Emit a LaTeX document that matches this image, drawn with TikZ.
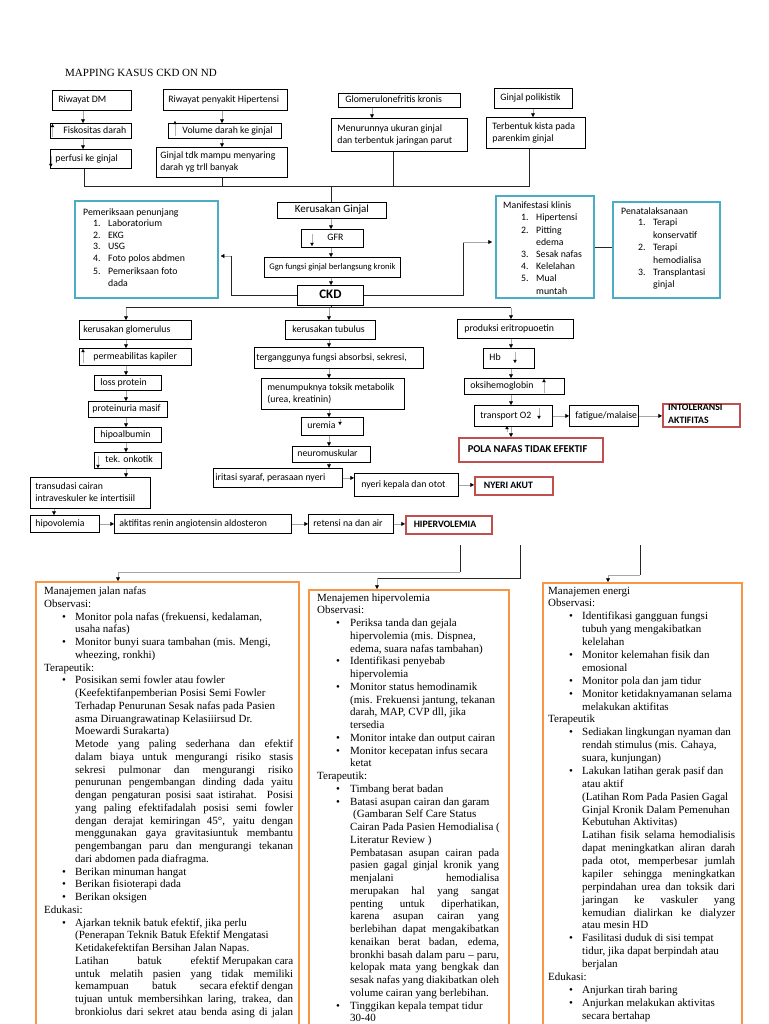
\documentclass[tikz,border=0pt]{standalone}
\usepackage{fontspec}
\setmainfont{Liberation Serif}
\newfontfamily\cf{Carlito}
\usetikzlibrary{arrows.meta,calc}
\definecolor{redc}{RGB}{192,80,77}
\definecolor{tealc}{RGB}{75,172,198}
\definecolor{orc}{RGB}{247,150,70}
\newcounter{tln}
\newcommand\mkbox[9][l]{%
  \pgfmathsetmacro\bw{#6-#4}%
  \pgfmathsetmacro\bh{#7-#5}%
  \pgfmathsetmacro\tw{max(#6-#4-2*#8,1)}%
  \node[anchor=north west, minimum width=\bw pt, minimum height=\bh pt,
        inner xsep=#8pt, inner ysep=0pt, #2] (#3) at (#4,#5)
        {\makebox[\tw pt][#1]{\begin{tabular}{@{}#1@{}}#9\end{tabular}}};}
\newcommand\stx[3]{\stepcounter{tln}\node[ctxt] (c\arabic{tln}) at (#1,#2+2.4) {#3};}
\newcommand\lnx[3]{\stepcounter{tln}\node[stxt] (s\arabic{tln}) at (#1,{\yo+(#2-1)*\dy+2.6}) {#3};}
\newcommand\lnj[2]{\stepcounter{tln}\node[stxt] (s\arabic{tln}) at (\xt,{\yo+(#1-1)*\dy+2.6}) {\makebox[\jw pt][s]{#2}};}
\newcommand\lnb[2]{\stepcounter{tln}\node[stxt] (s\arabic{tln}) at (\xb,{\yo+(#1-1)*\dy+2.6}) {\textbullet};%
  \stepcounter{tln}\node[stxt] (s\arabic{tln}) at (\xt,{\yo+(#1-1)*\dy+2.6}) {#2};}
\tikzset{
  box/.style={draw=black, line width=0.8pt, font=\cf\fontsize{9.8}{12}\selectfont},
  redb/.style={draw=redc, line width=1.6pt, font=\cf\bfseries\fontsize{9.8}{12}\selectfont},
  tealb/.style={draw=tealc, line width=1.7pt},
  orb/.style={draw=orc, line width=1.7pt},
  conn/.style={draw=gray!70, line width=0.5pt, -{Triangle[length=3.6pt,width=3.8pt,color=black]}},
  sarr/.style={draw=gray!60, line width=0.45pt, -{Triangle[length=3.2pt,width=3.4pt,color=black]}},
  bus/.style={draw=black!85, line width=0.7pt},
  stxt/.style={anchor=base west, inner sep=0pt, font=\fontsize{11}{12.75}\selectfont},
  ctxt/.style={anchor=base west, inner sep=0pt, font=\cf\fontsize{9.8}{12}\selectfont},
}
\begin{document}
\begin{tikzpicture}[x=1pt,y=-1pt]
\useasboundingbox (0,0) rectangle (768,1024);
\clip (0,0) rectangle (768,1024);
\fill[white] (0,0) rectangle (768,1024);

\node[anchor=base west, inner sep=0pt, font=\fontsize{11}{13}\selectfont] (title) at (65,77) {MAPPING KASUS CKD ON ND};

% ---------- top causes ----------
\mkbox{box}{dm}{52}{90}{131}{110}{6}{Riwayat DM}
\mkbox{box}{fisk}{50}{123}{131}{138}{13}{Fiskositas darah}
\mkbox{box}{perf}{50}{149}{131}{168}{5}{perfusi ke ginjal}
\mkbox{box}{rht}{163}{89}{287}{110}{5}{Riwayat penyakit Hipertensi}
\mkbox{box}{vol}{168}{123}{281}{138}{14}{Volume darah ke ginjal}
\mkbox{box}{gtm}{156}{147}{287}{177}{4}{Ginjal tdk mampu menyaring\\darah yg trll banyak}
\mkbox{box}{glo}{338}{93}{460}{107}{7}{Glomerulonefritis kronis}
\mkbox{box}{men}{331}{118}{467}{151}{6}{Menurunnya ukuran ginjal\\dan terbentuk jaringan parut}
\mkbox{box}{gpk}{494}{88}{572}{108}{6}{Ginjal polikistik}
\mkbox{box}{kis}{486}{117}{585}{148}{6}{Terbentuk kista pada\\parenkim ginjal}

% ---------- central chain ----------
\mkbox[c]{box,font=\cf\fontsize{11}{13}\selectfont}{kg}{277}{202}{386}{218}{0}{Kerusakan Ginjal}
\mkbox{box}{gfr}{301}{229}{363}{247}{26}{GFR}
\mkbox[c]{box,font=\cf\fontsize{8.6}{11}\selectfont}{ggn}{264}{257}{400}{277}{0}{Ggn fungsi ginjal berlangsung kronik}
\mkbox[c]{box,font=\cf\bfseries\fontsize{13}{15}\selectfont}{ckd}{297}{285}{363}{305}{0}{CKD}

% ---------- side boxes ----------
\mkbox{tealb}{pp}{74}{200}{217}{297}{0}{}
\stx{83}{213}{Pemeriksaan penunjang}
\stx{93}{224}{1.}\stx{108}{224}{Laboratorium}
\stx{93}{236}{2.}\stx{108}{236}{EKG}
\stx{93}{247}{3.}\stx{108}{247}{USG}
\stx{93}{259}{4.}\stx{108}{259}{Foto polos abdmen}
\stx{93}{272}{5.}\stx{108}{272}{Pemeriksaan foto}
\stx{108}{284}{dada}

\mkbox{tealb}{mk}{495}{195}{593}{297}{0}{}
\begin{scope}
\clip ($(mk.south west)+(1,-5.5)$) rectangle ($(mk.north east)+(-1,1)$);
\stx{503}{206}{Manifestasi klinis}
\stx{521}{218}{1.}\stx{536}{218}{Hipertensi}
\stx{521}{231}{2.}\stx{536}{231}{Pitting}
\stx{536}{243}{edema}
\stx{521}{255}{3.}\stx{536}{255}{Sesak nafas}
\stx{521}{267}{4.}\stx{536}{267}{Kelelahan}
\stx{521}{279}{5.}\stx{536}{279}{Mual}
\stx{536}{292}{muntah}
\end{scope}

\mkbox{tealb}{pen}{612}{201}{719}{297}{0}{}
\stx{621}{212}{Penatalaksanaan}
\stx{638}{223}{1.}\stx{653}{223}{Terapi}
\stx{653}{236}{konservatif}
\stx{638}{248}{2.}\stx{653}{248}{Terapi}
\stx{653}{261}{hemodialisa}
\stx{638}{273}{3.}\stx{653}{273}{Transplantasi}
\stx{653}{285}{ginjal}

% ---------- left branch ----------
\mkbox{box}{kglo}{79}{320}{191}{339}{4}{kerusakan glomerulus}
\mkbox{box}{perm}{79}{348}{191}{365}{14}{permeabilitas kapiler}
\mkbox{box}{loss}{94}{375}{161}{390}{6}{loss protein}
\mkbox{box}{prot}{88}{401}{167}{417}{4}{proteinuria masif}
\mkbox{box}{hipo}{94}{427}{161}{442}{6}{hipoalbumin}
\mkbox{box}{tek}{94}{452}{161}{468}{11}{tek. onkotik}
\mkbox{box}{tra}{30}{477}{150}{508}{5}{transudasi cairan\\intraveskuler ke intertisiil}
\mkbox{box}{hvol}{30}{515}{99}{532}{5}{hipovolemia}
\mkbox{box}{akt}{114}{514}{291}{533}{5}{aktifitas renin angiotensin aldosteron}
\mkbox{box}{ret}{308}{514}{393}{533}{5}{retensi na dan air}
\mkbox{redb}{hvl}{405}{515}{491}{533}{8}{HIPERVOLEMIA}

% ---------- middle branch ----------
\mkbox{box}{ktub}{285}{320}{375}{339}{7}{kerusakan tubulus}
\mkbox{box}{terg}{254}{347}{423}{368}{2}{terganggunya fungsi absorbsi, sekresi,}
\mkbox{box}{menu}{261}{378}{404}{409}{6}{menumpuknya toksik metabolik\\(urea, kreatinin)}
\mkbox{box}{ure}{301}{417}{363}{435}{6}{uremia}
\mkbox{box}{neu}{292}{446}{370}{462}{5}{neuromuskular}
\mkbox{box}{iri}{213}{468}{342}{487}{2}{iritasi syaraf, perasaan nyeri}
\mkbox{box}{nkep}{354}{473}{458}{496}{7}{nyeri kepala dan otot}
\mkbox{redb}{nak}{474}{476}{552}{494}{9}{NYERI AKUT}

% ---------- right branch ----------
\mkbox{box}{pro}{457}{319}{573}{338}{7}{produksi eritropuoetin}
\mkbox{box}{hb}{483}{348}{534}{368}{6}{Hb}
\mkbox{box}{oks}{464}{378}{564}{394}{6}{oksihemoglobin}
\mkbox{box}{tro}{474}{405}{552}{426}{6}{transport O2}
\mkbox{box}{fat}{569}{405}{638}{426}{6}{fatigue/malaise}
\mkbox{redb}{int}{662}{403}{739}{426}{0}{}
\begin{scope}
\clip ($(int.south west)+(1,-5.5)$) rectangle ($(int.north east)+(-1,1)$);
\stx{668}{408}{\bfseries INTOLERANSI}
\stx{668}{421}{\bfseries AKTIFITAS}
\end{scope}
\mkbox{redb,font=\cf\bfseries\fontsize{10.5}{12}\selectfont}{pola}{458}{437}{602}{461}{9}{POLA NAFAS TIDAK EFEKTIF}

% ---------- small in-box arrows ----------
\draw[sarr] (52.5,137) -- (52.5,124);
\draw[sarr] (50.8,156) -- (50.8,167);
\draw[sarr] (175,136) -- (175,121);
\draw[sarr] (83,363) -- (83,349);
\draw[sarr] (98,456) -- (98,468);
\draw[sarr] (312,234) -- (312,246);
\draw[sarr] (340,419) -- (340,425);
\draw[sarr] (515,352) -- (515,363);
\draw[sarr] (544,393) -- (544,379);
\draw[sarr] (539,408) -- (539,419);
\draw[sarr] (507,432) -- (507,426);

% ---------- helper coordinates ----------
\coordinate (x83) at (83,0);
\coordinate (x84) at (84,0);
\coordinate (x222) at (222,0);
\coordinate (x372) at (372,0);
\coordinate (x393) at (393,0);
\coordinate (x529) at (529,0);
\coordinate (x533) at (533,0);
\coordinate (x331) at (331,0);
\coordinate (x126) at (126,0);
\coordinate (x329) at (329,0);
\coordinate (x511) at (511,0);
\coordinate (x54) at (54,0);
\coordinate (b1) at (0,186.5);
\coordinate (b2) at (0,307.5);
\coordinate (pl) at (231,256);
\coordinate (pr) at (463,242);

% ---------- connectors top ----------
\draw[conn] (dm.south -| x83) -- (fisk.north -| x83);
\draw[conn] (fisk.south -| x83) -- (perf.north -| x83);
\draw[conn] (rht.south -| x222) -- (vol.north -| x222);
\draw[conn] (vol.south -| x222) -- (gtm.north -| x222);
\draw[conn] (glo.south -| x372) -- (men.north -| x372);
\draw[conn] (gpk.south -| x533) -- (kis.north -| x533);
\draw[bus] (perf.south -| x84) -- (x84 |- b1) -- (x529 |- b1) -- (kis.south -| x529);
\draw[bus] (gtm.south -| x222) -- (x222 |- b1);
\draw[bus] (men.south -| x393) -- (x393 |- b1);
\draw[bus] (x331 |- b1) -- (kg.north -| x331);
\draw[conn] (kg.south -| x331) -- (gfr.north -| x331);
\draw[conn] (gfr.south -| x331) -- (ggn.north -| x331);
\draw[conn] (ggn.south -| x331) -- (ckd.north -| x331);
\draw[bus] (ckd.west) -- (ckd.west -| pl) -- (pl);
\draw[conn] (pl) -- ([xshift=2pt]pp.east |- pl);
\draw[bus] (ckd.east) -- (ckd.east -| pr) -- (pr);
\draw[conn] (pr) -- ([xshift=-3pt]mk.west |- pr);
\draw[bus] (mk.east) -- (pen.west |- mk.east);
\draw[bus] (ckd.south -| x331) -- (x331 |- b2);
\draw[bus] (x126 |- b2) -- (x511 |- b2);
\draw[conn] (x126 |- b2) -- (kglo.north -| x126);
\draw[conn] (x329 |- b2) -- (ktub.north -| x329);
\draw[conn] (x511 |- b2) -- (pro.north -| x511);

% left chain
\draw[conn] (kglo.south -| x126) -- (perm.north -| x126);
\draw[conn] (perm.south -| x126) -- (loss.north -| x126);
\draw[conn] (loss.south -| x126) -- (prot.north -| x126);
\draw[conn] (prot.south -| x126) -- (hipo.north -| x126);
\draw[conn] (hipo.south -| x126) -- (tek.north -| x126);
\draw[conn] (tek.south -| x126) -- (tra.north -| x126);
\draw[conn] (tra.south -| x54) -- (hvol.north -| x54);
\draw[conn] (hvol.east) -- (akt.west |- hvol.east);
\draw[conn] (akt.east) -- (ret.west |- akt.east);
\draw[conn] (ret.east) -- (hvl.west |- ret.east);

% middle chain
\draw[conn] (ktub.south -| x329) -- (terg.north -| x329);
\draw[conn] (terg.south -| x329) -- (menu.north -| x329);
\draw[conn] (menu.south -| x329) -- (ure.north -| x329);
\draw[conn] (ure.south -| x329) -- (neu.north -| x329);
\draw[conn] (neu.south -| x329) -- (iri.north -| x329);
\draw[conn] (iri.east) -- (nkep.west |- iri.east);
\draw[conn] (nkep.east) -- (nak.west |- nkep.east);

% right chain
\draw[conn] (pro.south -| x511) -- (hb.north -| x511);
\draw[conn] (hb.south -| x511) -- (oks.north -| x511);
\draw[conn] (oks.south -| x511) -- (tro.north -| x511);
\draw[conn] (tro.south -| x511) -- (pola.north -| x511);
\draw[conn] (tro.east) -- (fat.west |- tro.east);
\draw[conn] (fat.east) -- (int.west |- fat.east);

% ---------- bottom boxes ----------
\mkbox{orb}{lb}{35}{581}{298}{1040}{0}{}
\mkbox{orb}{mb}{308}{589}{508}{1040}{0}{}
\mkbox{orb}{rb}{542}{582}{741}{1040}{0}{}

\coordinate (v1) at (460,545);
\coordinate (h1) at (460,572);
\coordinate (x118) at (118,0);
\coordinate (v2) at (520,545);
\coordinate (h2) at (520,578);
\coordinate (x377) at (377,0);
\coordinate (v3) at (640,545);
\coordinate (h3) at (640,575);
\coordinate (x608) at (608,0);
\draw[bus] (v1) -- (h1);
\draw[conn] (h1) -- (h1 -| x118) -- (lb.north -| x118);
\draw[bus] (v2) -- (h2) -- (h2 -| x377);
\draw[conn] (h2 -| x377) -- (mb.north -| x377);
\draw[bus] (v3) -- (h3);
\draw[conn] (h3) -- (h3 -| x608) -- (rb.north -| x608);

% ---------- left box text ----------
\def\yo{592}\def\dy{12.75}\def\xb{62}\def\xt{75}\def\jw{218}
\lnx{44}{1}{Manajemen jalan nafas}
\lnx{44}{2}{Observasi:}
\lnb{3}{Monitor pola nafas (frekuensi, kedalaman,}
\lnx{75}{4}{usaha nafas)}
\lnb{5}{Monitor bunyi suara tambahan (mis. Mengi,}
\lnx{75}{6}{wheezing, ronkhi)}
\lnx{44}{7}{Terapeutik:}
\lnb{8}{Posisikan semi fowler atau fowler}
\lnx{75}{9}{(Keefektifanpemberian Posisi Semi Fowler}
\lnx{75}{10}{Terhadap Penurunan Sesak nafas pada Pasien}
\lnx{75}{11}{asma Diruangrawatinap Kelasiiirsud Dr.}
\lnx{75}{12}{Moewardi Surakarta)}
\lnj{13}{Metode yang paling sederhana dan efektif}
\lnj{14}{dalam biaya untuk mengurangi risiko stasis}
\lnj{15}{sekresi pulmonar dan mengurangi risiko}
\lnj{16}{penurunan pengembangan dinding dada yaitu}
\lnj{17}{dengan pengaturan posisi saat istirahat. Posisi}
\lnj{18}{yang paling efektifadalah posisi semi fowler}
\lnj{19}{dengan derajat kemiringan 45°, yaitu dengan}
\lnj{20}{menggunakan gaya gravitasiuntuk membantu}
\lnj{21}{pengembangan paru dan mengurangi tekanan}
\lnx{75}{22}{dari abdomen pada diafragma.}
\lnb{23}{Berikan minuman hangat}
\lnb{24}{Berikan fisioterapi dada}
\lnb{25}{Berikan oksigen}
\lnx{44}{26}{Edukasi:}
\lnb{27}{Ajarkan teknik batuk efektif, jika perlu}
\lnx{75}{28}{(Penerapan Teknik Batuk Efektif Mengatasi}
\lnx{75}{29}{Ketidakefektifan Bersihan Jalan Napas.}
\lnj{30}{Latihan\hfill batuk\hfill efektif Merupakan cara}
\lnj{31}{untuk melatih pasien yang tidak memiliki}
\lnj{32}{kemampuan\hfill batuk\hfill secara efektif dengan}
\lnj{33}{tujuan untuk membersihkan laring, trakea, dan}
\lnj{34}{bronkiolus dari sekret atau benda asing di jalan}

% ---------- middle box text ----------
\def\yo{598.5}\def\dy{12.75}\def\xb{336}\def\xt{350}\def\jw{149}
\lnx{317}{1}{Menajemen hipervolemia}
\lnx{317}{2}{Observasi:}
\lnb{3}{Periksa tanda dan gejala}
\lnx{350}{4}{hipervolemia (mis. Dispnea,}
\lnx{350}{5}{edema, suara nafas tambahan)}
\lnb{6}{Identifikasi penyebab}
\lnx{350}{7}{hipervolemia}
\lnb{8}{Monitor status hemodinamik}
\lnx{350}{9}{(mis. Frekuensi jantung, tekanan}
\lnx{350}{10}{darah, MAP, CVP dll, jika}
\lnx{350}{11}{tersedia}
\lnb{12}{Monitor intake dan output cairan}
\lnb{13}{Monitor kecepatan infus secara}
\lnx{350}{14}{ketat}
\lnx{317}{15}{Terapeutik:}
\lnb{16}{Timbang berat badan}
\lnb{17}{Batasi asupan cairan dan garam}
\lnx{353}{18}{(Gambaran Self Care Status}
\lnx{350}{19}{Cairan Pada Pasien Hemodialisa (}
\lnx{350}{20}{Literatur Review )}
\lnj{21}{Pembatasan asupan cairan pada}
\lnj{22}{pasien gagal ginjal kronik yang}
\lnj{23}{menjalani hemodialisa}
\lnj{24}{merupakan hal yang sangat}
\lnj{25}{penting untuk diperhatikan,}
\lnj{26}{karena asupan cairan yang}
\lnj{27}{berlebihan dapat mengakibatkan}
\lnj{28}{kenaikan berat badan, edema,}
\lnj{29}{bronkhi basah dalam paru – paru,}
\lnj{30}{kelopak mata yang bengkak dan}
\lnj{31}{sesak nafas yang diakibatkan oleh}
\lnx{350}{32}{volume cairan yang berlebihan.}
\lnb{33}{Tinggikan kepala tempat tidur}
\lnx{350}{34}{30-40}

% ---------- right box text ----------
\def\yo{591.5}\def\dy{12.88}\def\xb{569}\def\xt{582}\def\jw{153}
\lnx{548}{1}{Manajemen energi}
\lnx{548}{2}{Observasi:}
\lnb{3}{Identifikasi gangguan fungsi}
\lnx{582}{4}{tubuh yang mengakibatkan}
\lnx{582}{5}{kelelahan}
\lnb{6}{Monitor kelemahan fisik dan}
\lnx{582}{7}{emosional}
\lnb{8}{Monitor pola dan jam tidur}
\lnb{9}{Monitor ketidaknyamanan selama}
\lnx{582}{10}{melakukan aktifitas}
\lnx{548}{11}{Terapeutik}
\lnb{12}{Sediakan lingkungan nyaman dan}
\lnx{582}{13}{rendah stimulus (mis. Cahaya,}
\lnx{582}{14}{suara, kunjungan)}
\lnb{15}{Lakukan latihan gerak pasif dan}
\lnx{582}{16}{atau aktif}
\lnx{582}{17}{(Latihan Rom Pada Pasien Gagal}
\lnx{582}{18}{Ginjal Kronik Dalam Pemenuhan}
\lnx{582}{19}{Kebutuhan Aktivitas)}
\lnj{20}{Latihan fisik selama hemodialisis}
\lnj{21}{dapat meningkatkan aliran darah}
\lnj{22}{pada otot, memperbesar jumlah}
\lnj{23}{kapiler sehingga meningkatkan}
\lnj{24}{perpindahan urea dan toksik dari}
\lnj{25}{jaringan ke vaskuler yang}
\lnj{26}{kemudian dialirkan ke dialyzer}
\lnx{582}{27}{atau mesin HD}
\lnb{28}{Fasilitasi duduk di sisi tempat}
\lnx{582}{29}{tidur, jika dapat berpindah atau}
\lnx{582}{30}{berjalan}
\lnx{548}{31}{Edukasi:}
\lnb{32}{Anjurkan tirah baring}
\lnb{33}{Anjurkan melakukan aktivitas}
\lnx{582}{34}{secara bertahap}
\end{tikzpicture}
\end{document}
